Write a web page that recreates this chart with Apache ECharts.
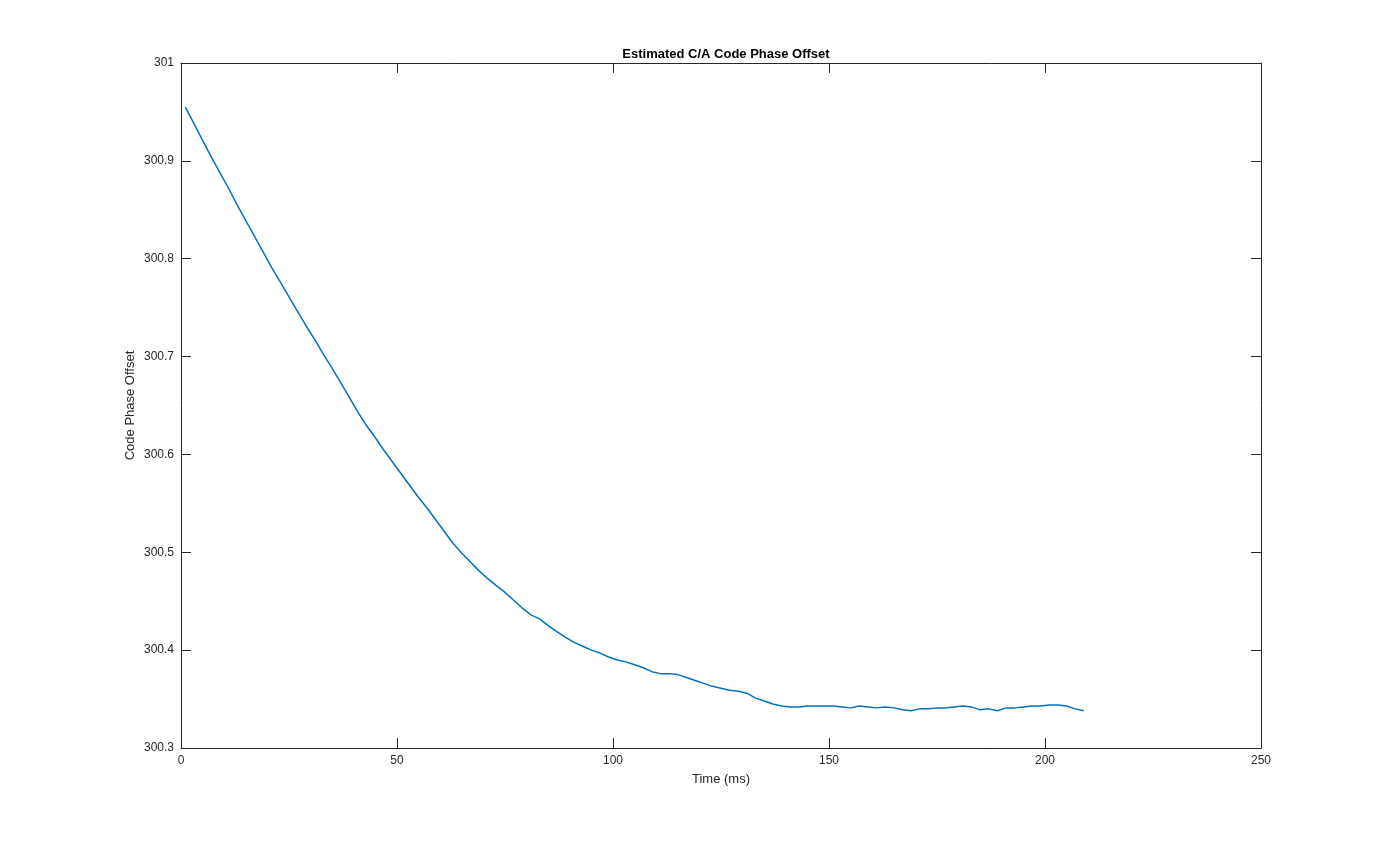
<!DOCTYPE html>
<html>
<head>
<meta charset="utf-8">
<script src="https://cdn.jsdelivr.net/npm/echarts@6/dist/echarts.min.js"></script>
<style>html,body{margin:0;padding:0;background:#fff;}#c{width:1394px;height:842px;}</style>
</head>
<body>
<div id="c"></div>
<script>
var timeMs = [1,3,5,7,9,11,13,15,17,19,21,23,25,27,29,31,33,35,37,39,41,43,45,47,49,51,53,55,57,59,61,63,65,67,69,71,73,75,77,79,81,83,85,87,89,91,93,95,97,99,101,103,105,107,109,111,113,115,117,119,121,123,125,127,129,131,133,135,137,139,141,143,145,147,149,151,153,155,157,159,161,163,165,167,169,171,173,175,177,179,181,183,185,187,189,191,193,195,197,199,201,203,205,207,209];
var codePhase = [300.955,300.938,300.921,300.904,300.888,300.872,300.855,300.839,300.823,300.807,300.791,300.776,300.761,300.746,300.731,300.717,300.702,300.688,300.673,300.658,300.643,300.629,300.617,300.604,300.592,300.580,300.568,300.556,300.545,300.533,300.521,300.509,300.499,300.490,300.481,300.473,300.466,300.459,300.451,300.443,300.436,300.432,300.425,300.419,300.413,300.408,300.404,300.400,300.397,300.393,300.390,300.388,300.385,300.382,300.378,300.376,300.376,300.375,300.372,300.369,300.366,300.363,300.361,300.359,300.358,300.356,300.351,300.348,300.345,300.343,300.342,300.342,300.343,300.343,300.343,300.343,300.342,300.341,300.343,300.342,300.341,300.342,300.341,300.339,300.338,300.340,300.340,300.341,300.341,300.342,300.343,300.342,300.339,300.340,300.338,300.341,300.341,300.342,300.343,300.343,300.344,300.344,300.343,300.340,300.338];
var xTicks = [0,50,100,150,200,250];
var yTicks = [300.3,300.4,300.5,300.6,300.7,300.8,300.9,301];

var data = timeMs.map(function(t,i){return [t, codePhase[i]];});
var font = 'Liberation Sans, Arial, Helvetica, sans-serif';
var axCol = '#262626';
function fmtY(v){ return (Math.round(v*10)/10).toString(); }
var chart = echarts.init(document.getElementById('c'), null, {renderer:'canvas'});
var baseX = {
  type:'value', min:xTicks[0], max:xTicks[xTicks.length-1], interval:50,
  axisLine:{show:true, onZero:false, lineStyle:{color:axCol, width:1}},
  axisTick:{show:true, inside:true, length:10, lineStyle:{color:axCol}},
  splitLine:{show:false}
};
var baseY = {
  type:'value', min:yTicks[0], max:yTicks[yTicks.length-1], interval:0.1,
  axisLine:{show:true, onZero:false, lineStyle:{color:axCol, width:1}},
  axisTick:{show:true, inside:true, length:10, lineStyle:{color:axCol}},
  splitLine:{show:false}
};
chart.setOption({
  animation:false,
  backgroundColor:'#fff',
  title:{text:'Estimated C/A Code Phase Offset', left:721, textAlign:'center', top:43,
    textStyle:{fontFamily:font, fontSize:13, fontWeight:'bold', color:'#000'}},
  grid:{left:181, right:133, top:63, bottom:94},
  xAxis:[
    Object.assign({}, baseX, {position:'bottom', name:'Time (ms)', nameLocation:'middle', nameGap:25,
      nameMoveOverlap:false,
      nameTextStyle:{fontFamily:font, fontSize:13, color:axCol},
      axisLabel:{show:true, margin:7, fontFamily:font, fontSize:12, color:axCol}}),
    Object.assign({}, baseX, {position:'top', axisLabel:{show:false}})
  ],
  yAxis:[
    Object.assign({}, baseY, {position:'left', name:'Code Phase Offset', nameLocation:'middle', nameGap:44,
      nameMoveOverlap:false,
      nameTextStyle:{fontFamily:font, fontSize:13, color:axCol},
      axisLabel:{show:true, margin:7, fontFamily:font, fontSize:12, color:axCol, formatter:fmtY}}),
    Object.assign({}, baseY, {position:'right', axisLabel:{show:false}})
  ],
  series:[{
    type:'line', data:data, xAxisIndex:0, yAxisIndex:0, showSymbol:false, symbol:'none',
    lineStyle:{color:'#0072BD', width:1.5}, smooth:false
  }]
});
</script>
</body>
</html>
